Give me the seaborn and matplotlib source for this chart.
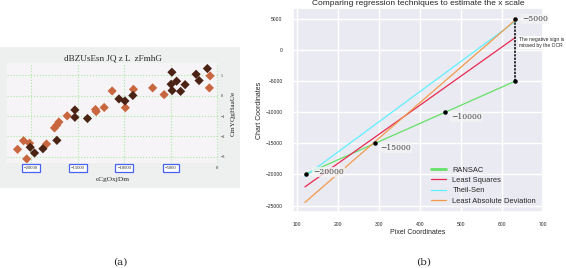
import numpy as np
import pandas as pd
import matplotlib
matplotlib.use("Agg")
import matplotlib.pyplot as plt
import seaborn as sns

# Panel (a): scatter
orange_x = [-21470, -20826, -20182, -20483, -18358, -17500, -17242, -17028, -16137,
            -13100, -13025, -12167, -11309, -9892, -9023, -6963, -5729, -793, -868]
orange_y = [-2.63, -2.21, -2.33, -3.10, -2.37, -1.58, -1.44, -1.29, -0.99,
            -0.68, -0.78, -0.58, 0.23, -0.59, 0.31, 0.38, 0.05, 0.97, 0.38]
dark_x = [-20107, -19646, -18745, -17242, -15311, -15311, -13959, -10579, -9935,
          -9088, -4892, -4978, -4388, -4871, -3959, -3476, -2296, -1974, -1083]
dark_y = [-2.53, -2.81, -2.60, -2.19, -0.70, -1.06, -1.12, -0.16, -0.26,
          0.01, 1.15, 0.56, 0.71, 0.25, 0.21, 0.54, 1.05, 0.74, 1.33]
a_xticks = [-20000, -15000, -10000, -5000, 0]
a_xticklabels = ["\u221220000", "\u221215000", "\u221210000", "\u22125000", "0"]
a_yticks = [1, 0, -1, -2, -3]
a_yticklabels = ["1", "0", "\u22121", "\u22122", "\u22123"]

# Panel (b): regression lines (end points) and OCR points
methods = ["RANSAC", "Least Squares", "Theil-Sen", "Least Absolute Deviation"]
line_x = [[120, 632], [120, 632], [120, 632], [120, 632]]
line_y = [[-20000, -5000], [-22000, 2000], [-20300, 4600], [-24500, 4800]]
pt_x = [632, 632, 462, 291, 122]
pt_y = [5000, -5000, -10000, -15000, -20000]
pt_labels = ["\u22125000", None, "\u221210000", "\u221215000", "\u221220000"]

sns.set_theme(style="darkgrid")
plt.rcParams['font.family'] = ['Liberation Sans', 'DejaVu Sans']

fig = plt.figure(figsize=(5.66, 2.68), dpi=100)

# ---- panel (a) ----
bg = fig.add_axes([0.0, 0.2985, 0.424, 0.526])
bg.set_facecolor("#edf0ee")
bg.set_xticks([])
bg.set_yticks([])
for s in bg.spines.values():
    s.set_visible(False)
bg.grid(False)

axa = fig.add_axes([0.0124, 0.3918, 0.3728, 0.3731])
axa.set_facecolor("#f7f4f8")
df_a = pd.DataFrame({
    "x": orange_x + dark_x,
    "y": orange_y + dark_y,
    "g": ["o"] * len(orange_x) + ["d"] * len(dark_x),
})
sns.scatterplot(data=df_a, x="x", y="y", hue="g", palette={"o": "#c8663f", "d": "#4b2315"},
                marker="D", s=22, linewidth=0, legend=False, ax=axa)
axa.set_xlim(-22600, 60)
axa.set_ylim(-3.3, 1.6)
axa.set_xticks(a_xticks)
axa.set_xticklabels([])
axa.set_yticks(a_yticks)
axa.set_yticklabels(a_yticklabels, fontsize=3, family="Liberation Serif")
axa.yaxis.tick_right()
axa.yaxis.set_label_position("right")
axa.tick_params(axis="both", length=0, pad=2)
axa.grid(True, color="#a8e8a0", linestyle=":", linewidth=0.8)
for s in axa.spines.values():
    s.set_visible(False)
for xv, lab in zip(a_xticks, a_xticklabels):
    if lab == "0":
        axa.text(xv, -3.55, lab, fontsize=3.3, family="Liberation Serif", ha="center", va="center")
    else:
        axa.text(xv, -3.55, lab, fontsize=3.3, family="Liberation Serif", ha="center", va="center",
                 bbox=dict(boxstyle="square,pad=0.45", fc="white", ec="#4a62f0", lw=0.9))
axa.set_title("dBZUsEsn JQ z L  zFmhG", fontsize=6.6, family="Liberation Serif", pad=2)
axa.set_xlabel("cCgOxjDm", fontsize=5.3, family="Liberation Serif", labelpad=8)
axa.set_ylabel("CmYQgHaaUe", fontsize=5.3, family="Liberation Serif", labelpad=4)

# ---- panel (b) ----
axb = fig.add_axes([0.5177, 0.210, 0.4412, 0.760])
colors = ["#66e066", "#e8294f", "#5ff0ff", "#f39a4a"]
rows = []
for m, xs, ys in zip(methods, line_x, line_y):
    for xv, yv in zip(xs, ys):
        rows.append({"method": m, "x": xv, "y": yv})
df_b = pd.DataFrame(rows)
sns.lineplot(data=df_b, x="x", y="y", hue="method", hue_order=methods,
             palette=colors, linewidth=0.9, ax=axb)

axb.plot([pt_x[0], pt_x[1]], [pt_y[0], pt_y[1]], color="black", linestyle=(0, (1.5, 0.8)), linewidth=1.1)
axb.scatter(pt_x, pt_y, color="black", s=5, zorder=5)
offsets = {0: (5, 0), 2: (4, -3), 3: (4, -3), 4: (5, 2)}
for i, lab in enumerate(pt_labels):
    if lab is None:
        continue
    dx, dy = offsets[i]
    axb.annotate(lab, (pt_x[i], pt_y[i]), xytext=(dx, dy), textcoords="offset points",
                 fontsize=5.5, family="DejaVu Serif", color="#444444", va="center", ha="left",
                 bbox=dict(boxstyle="square,pad=0.15", fc="#f4f4f4", ec="none", alpha=0.8))
axb.text(643, 1300, "The negative sign is\nmissed by the OCR", fontsize=3.6, va="center", ha="left",
         bbox=dict(boxstyle="square,pad=0.2", fc="white", ec="none"))

axb.set_xlim(91, 700)
axb.set_ylim(-26000, 6800)
axb.set_xticks([100, 200, 300, 400, 500, 600, 700])
axb.set_yticks([5000, 0, -5000, -10000, -15000, -20000, -25000])
axb.tick_params(axis="both", labelsize=3.6, pad=1.5)
axb.set_xlabel("Pixel Coordinates", fontsize=5, labelpad=1)
axb.set_ylabel("Chart Coordinates", fontsize=5, labelpad=2)
axb.set_title("Comparing regression techniques to estimate the x scale", fontsize=6, pad=2)
leg = axb.legend(loc="lower right", fontsize=5.4, frameon=False, handlelength=2.0,
                 handletextpad=0.85, labelspacing=0.43, borderaxespad=0.5)
leg.get_lines()[0].set_linewidth(2)

fig.text(120 / 566, 0.022, "(a)", fontsize=7.5, family="DejaVu Serif", ha="center", va="center")
fig.text(424 / 566, 0.022, "(b)", fontsize=7.5, family="DejaVu Serif", ha="center", va="center")

fig.savefig("out.png", dpi=100)
